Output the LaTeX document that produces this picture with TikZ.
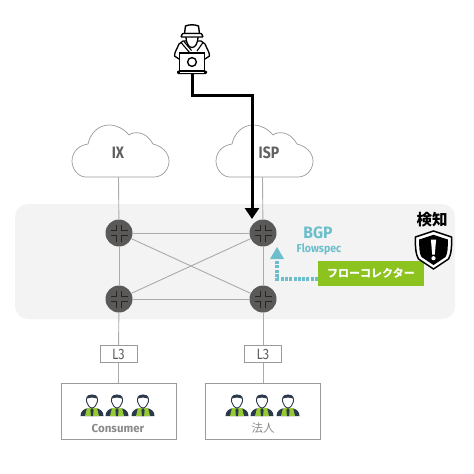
\documentclass[tikz,border=0pt]{standalone}
\usepackage{fontspec}
\setmainfont{Fira Sans}
\newfontfamily\jpf{Noto Sans CJK JP}
\usetikzlibrary{arrows.meta,calc}
\definecolor{panel}{HTML}{F3F3F3}
\definecolor{wire}{HTML}{ABABAB}
\definecolor{edgegray}{HTML}{9A9A9A}
\definecolor{rout}{HTML}{5B5858}
\definecolor{teal1}{HTML}{6CBECB}
\definecolor{lime}{HTML}{8CC31E}
\definecolor{navy}{HTML}{2B3A4A}
\definecolor{txtgray}{HTML}{8A8A8A}
\tikzset{
 wireline/.style={draw=wire,line width=0.9pt},
 router/.style={circle,fill=rout,minimum size=27pt,inner sep=0pt},
 cloudlabel/.style={minimum width=98pt,minimum height=52pt,inner sep=0pt,font=\bfseries\fontsize{16.5}{16}\selectfont\addfontfeatures{FakeStretch=0.85},text=black!62},
 lthree/.style={draw=edgegray,fill=white,line width=0.8pt,minimum width=37pt,minimum height=17pt,inner sep=0pt,font=\fontsize{15}{14}\selectfont\addfontfeatures{FakeStretch=0.85},text=black!62},
 userbox/.style={draw=edgegray,fill=white,line width=0.8pt,minimum width=115pt,minimum height=56pt,inner sep=0pt},
 attack/.style={line width=3pt,black,-{Triangle[length=11pt,width=14pt]}},
 flowline/.style={line width=3.2pt,teal1,dash pattern=on 3pt off 1.3pt},
 pics/cloudshape/.style={code={
  \draw[edgegray,line width=0.7pt,fill=white] (-34,25) .. controls (-42,25) and (-48,17) .. (-48,9)
   .. controls (-48,-1) and (-40,-7) .. (-32,-8)
   .. controls (-30,-18) and (-22,-27) .. (-11,-27)
   .. controls (-3,-27) and (4,-23) .. (9,-17)
   .. controls (14,-21) and (26,-21) .. (33,-8)
   .. controls (42,-6) and (49,1) .. (49,9)
   .. controls (49,18) and (42,25) .. (34,25) -- cycle;
 }},
 pics/routermark/.style={code={
  \foreach \sx/\sy in {1/1,1/-1,-1/1,-1/-1}
   \draw[black!85,line width=1.1pt] (2.3*\sx,8.5*\sy) -- (2.3*\sx,2.3*\sy) -- (8.5*\sx,2.3*\sy);
 }},
 pics/person/.style={code={
  \fill[navy] (-11.5,21) .. controls (-11.5,16) and (-8,14) .. (-4,13) -- (4,13) .. controls (8,14) and (11.5,16) .. (11.5,21) -- cycle;
  \fill[lime!90!white] (-7,21) -- (-5,13) -- (5,13) -- (7,21) -- cycle;
  \fill[navy] (0,13) -- (-1.6,15) -- (-1,21) -- (1,21) -- (1.6,15) -- cycle;
  \draw[navy,line width=0.9pt,fill=white] (0,0) .. controls (-5,0) and (-6.2,3) .. (-5.3,7) .. controls (-4.8,10) and (-2,13) .. (0,13) .. controls (2,13) and (4.8,10) .. (5.3,7) .. controls (6.2,3) and (5,0) .. (0,0) -- cycle;
  \fill[navy] (-5.3,3.8) .. controls (-5.5,0.8) and (-3,-0.3) .. (0,-0.3) .. controls (3,-0.3) and (5.5,0.8) .. (5.3,3.8) .. controls (3,2.2) and (-3,2.2) .. (-5.3,3.8) -- cycle;
 }},
 pics/hacker/.style={code={
  % coat
  \draw[black,line width=1.3pt,fill=white] (-9,16) -- (-13,19) .. controls (-15,24) and (-17.5,27) .. (-17.5,31) -- (-13,34) -- (13,34) -- (17.5,31) .. controls (17.5,27) and (15,24) .. (13,19) -- (9,16) -- cycle;
  \draw[black,line width=1.1pt] (-11,17.5) -- (-2,28) (-8,16.5) -- (-0.5,25.5) (11,17.5) -- (5,26);
  % head
  \draw[black,line width=1.3pt,fill=white] (-6,11) .. controls (-6,19) and (-3,22.5) .. (0,22.5) .. controls (3,22.5) and (6,19) .. (6,11) -- cycle;
  % hat
  \draw[black,line width=1.4pt,fill=white] (-6.5,1) .. controls (-3,-0.6) and (3,-0.6) .. (6.5,1) -- (7.5,8.5) -- (-7.5,8.5) -- cycle;
  \draw[black,line width=1.4pt,fill=white,rounded corners=0.6pt] (-9.5,8.5) -- (9.5,8.5) -- (11,12) -- (-11,12) -- cycle;
  % laptop
  \draw[black,line width=1.4pt,fill=white] (-12.5,28) rectangle (12.5,45.5);
  \draw[black,line width=1.4pt,fill=white] (0,37) circle (4.4);
  \fill[black,rounded corners=1.2pt] (-15,45.5) rectangle (15,49);
  \fill[white] (-12,46.8) rectangle (12,47.8);
 }},
 pics/shieldicon/.style={code={
  \draw[black,line width=1.5pt,fill=white] (-18,6) -- (0,0) -- (18,6) .. controls (18.5,16) and (17.5,24) .. (15,28) -- (0,38) -- (-15,28) .. controls (-17.5,24) and (-18.5,16) .. (-18,6) -- cycle;
  \fill[black] (-14.3,8.5) -- (0,3.8) -- (14.3,8.5) .. controls (14.5,17) and (14,23) .. (12,26) -- (0,34) -- (-12,26) .. controls (-14,23) and (-14.5,17) .. (-14.3,8.5) -- cycle;
  \fill[white] (-2.6,8.5) -- (2.6,8.5) -- (1.3,23.5) -- (-1.3,23.5) -- cycle;
  \fill[white] (0,27.2) circle (2.1);
 }}
}
\begin{document}
\begin{tikzpicture}[x=1pt,y=-1pt]
\useasboundingbox (0,0) rectangle (474,474);
\fill[white] (0,0) rectangle (474,474);
\fill[panel,rounded corners=13pt] (15,204) rectangle (455,319);

% clouds
\pic at (120,152) {cloudshape};
\pic at (264,152) {cloudshape};
\node[cloudlabel] (ix) at (118,153) {IX};
\node[cloudlabel] (isp) at (269,153) {ISP};
\coordinate (ixb) at (118.5,177);
\coordinate (ispb) at (262.5,177);

% routers
\node[router] (r1) at (119,233) {};
\node[router] (r2) at (263,233) {};
\node[router] (r3) at (119,299) {};
\node[router] (r4) at (263,299) {};

% boxes
\node[lthree] (l1) at (118.5,354) {L3};
\node[lthree] (l2) at (263,354) {L3};
\node[userbox] (c1) at (118.5,411) {};
\node[userbox] (c2) at (263,411) {};

% wires
\draw[wireline] (ixb) -- (r1);
\draw[wireline] (ispb) -- (r2);
\draw[wireline] (r1) -- (r2);
\draw[wireline] (r3) -- (r4);
\draw[wireline] (r1) -- (r4);
\draw[wireline] (r3) -- (r2);
\draw[wireline] (r1) -- (r3);
\draw[wireline] (r2) -- (r4);
\draw[wireline] (r3) -- (l1);
\draw[wireline] (r4) -- (l2);
\draw[wireline] (l1) -- (c1);
\draw[wireline] (l2) -- (c2);

\pic at (119,233) {routermark};
\pic at (263,233) {routermark};
\pic at (119,299) {routermark};
\pic at (263,299) {routermark};

% people
\foreach \px in {92,117,143,237,262,288}
  \pic at (\px,395) {person};
\node[font=\fontsize{11.5}{12}\selectfont\bfseries,text=txtgray] (t1) at (118,428.5) {Consumer};
\node[font=\jpf\fontsize{11.5}{12}\selectfont,text=txtgray] (t2) at (263,428) {法人};

% hacker & attack
\pic at (192,25) {hacker};
\coordinate (hk) at (192,74);
\coordinate (hit) at (252,219);
\draw[attack] (hk) |- (252,95) -- (hit);

% flow collector
\node[fill=lime,minimum width=106pt,minimum height=25pt,inner sep=0pt,text=white,font=\jpf\bfseries\fontsize{11}{11}\selectfont] (flow) at (371,273.5) {フローコレクター};
\coordinate (fs) at (318,279);
\coordinate (fc) at (277,279);
\coordinate (ftip) at (277,260);
\draw[flowline] (fs) -- (fc) -- (ftip);
\fill[teal1] (277,247) -- (284,259) -- (270,259) -- cycle;
\node[text=teal1,font=\bfseries\fontsize{16.5}{16}\selectfont\addfontfeatures{FakeStretch=0.95}] (bgp) at (318,232.5) {BGP};
\node[text=teal1,font=\bfseries\fontsize{11.5}{12}\selectfont\addfontfeatures{FakeStretch=0.92}] (fsp) at (319,249) {Flowspec};

% detection
\pic at (433.5,231) {shieldicon};
\node[font=\jpf\bfseries\fontsize{15.5}{16}\selectfont,text=black] (det) at (432,220) {検知};
\end{tikzpicture}
\end{document}
